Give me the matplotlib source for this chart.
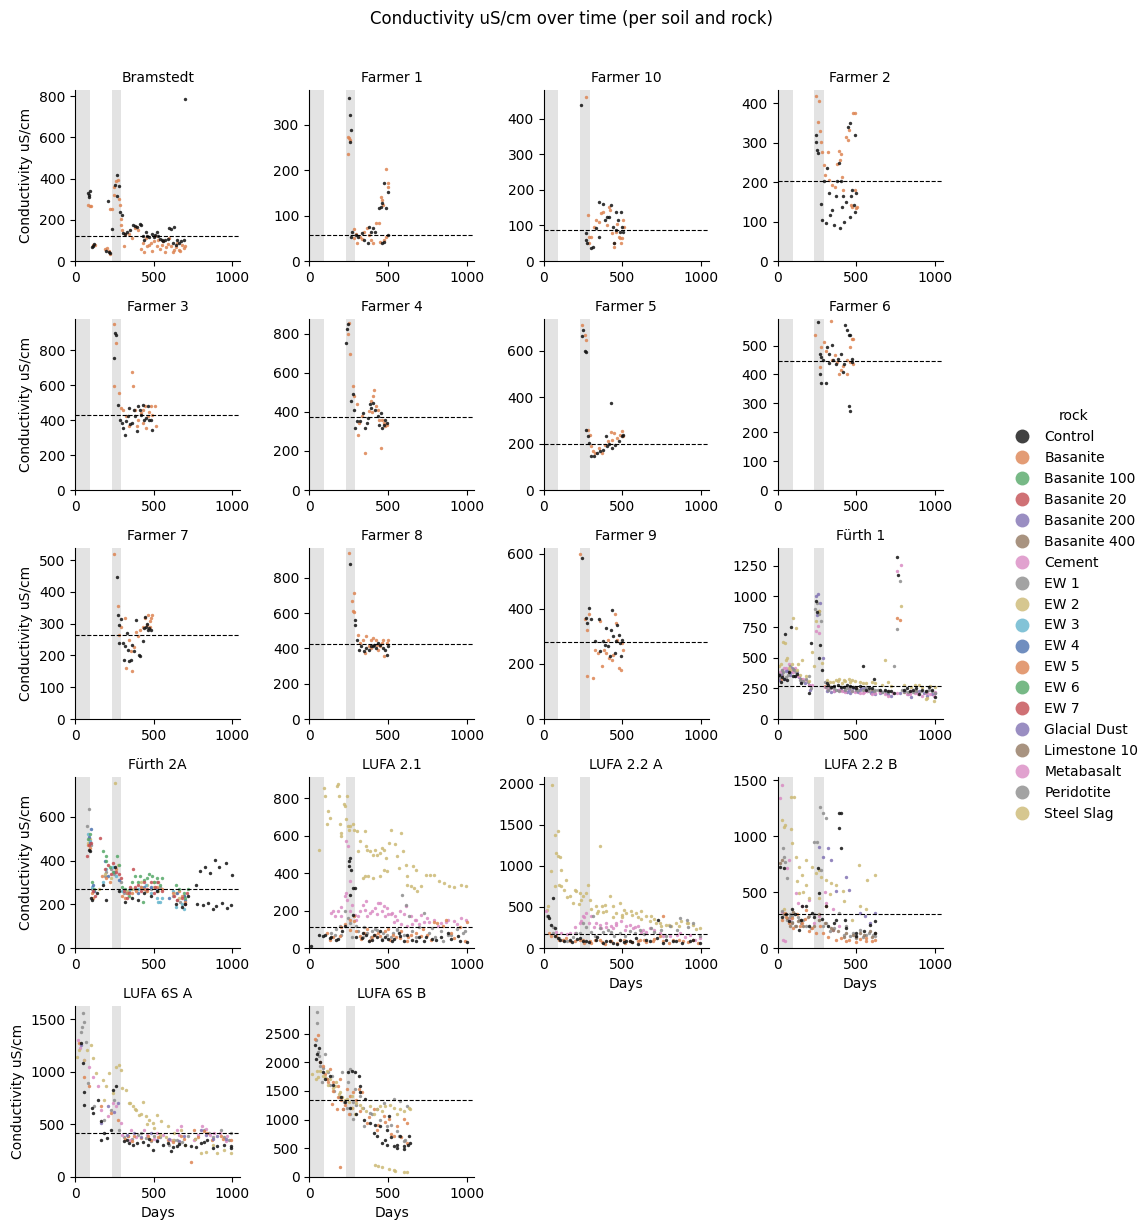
import matplotlib
matplotlib.use("Agg")
import matplotlib.pyplot as plt
from matplotlib.lines import Line2D

# rocks in legend order and their colours
rocks = ["Control", "Basanite", "Basanite 100", "Basanite 20", "Basanite 200",
         "Basanite 400", "Cement", "EW 1", "EW 2", "EW 3", "EW 4", "EW 5", "EW 6",
         "EW 7", "Glacial Dust", "Limestone 10", "Metabasalt", "Peridotite", "Steel Slag"]
colors = ["#111111", "#dd8452", "#55a868", "#c44e52", "#8172b3", "#937860", "#da8bc3",
          "#8c8c8c", "#ccb974", "#64b5cd", "#4c72b0", "#dd8452", "#55a868", "#c44e52",
          "#8172b3", "#937860", "#da8bc3", "#8c8c8c", "#ccb974"]

# (day, conductivity) points per site and rock
bramstedt = {
    "Basanite": [(85, 270), (95, 268), (100, 265), (115, 80), (125, 80), (190, 60), (205, 65), (215, 50),
                 (225, 35), (225, 255), (235, 255), (245, 320), (250, 360), (260, 390), (270, 395), (280, 300),
                 (285, 270), (290, 205), (295, 175), (300, 150), (310, 75), (320, 130), (340, 130), (360, 110),
                 (380, 160), (390, 165), (400, 150), (420, 60), (430, 90), (440, 45), (450, 110), (460, 75),
                 (470, 80), (480, 90), (490, 50), (500, 95), (510, 120), (520, 75), (530, 100), (540, 60),
                 (550, 80), (560, 95), (570, 45), (580, 70), (590, 85), (600, 110), (610, 75), (620, 45),
                 (630, 55), (640, 70), (650, 90), (660, 55), (670, 50), (680, 80), (690, 65), (700, 75)],
    "Control": [(85, 330), (90, 320), (95, 340), (88, 310), (110, 70), (115, 75), (120, 85), (200, 50),
                (215, 45), (220, 40), (211, 293), (232, 156), (251, 370), (264, 418), (266, 316), (278, 365),
                (289, 238), (300, 222), (305, 135), (315, 130), (330, 140), (350, 150), (370, 175), (380, 170),
                (395, 165), (410, 180), (420, 175), (430, 120), (440, 100), (450, 140), (460, 120), (470, 115),
                (490, 130), (500, 115), (510, 125), (520, 140), (530, 120), (540, 105), (550, 100), (560, 95),
                (570, 100), (590, 105), (600, 160), (610, 155), (620, 90), (630, 165), (640, 80), (650, 100),
                (660, 90), (675, 95), (690, 100), (700, 785)],
}
farmer_1 = {
    "Basanite": [(249, 274), (254, 271), (260, 267), (249, 237), (282, 70), (287, 50), (304, 39), (323, 54),
                 (351, 65), (365, 72), (378, 57), (392, 46), (406, 39), (425, 83), (442, 83), (456, 142),
                 (464, 135), (470, 124), (489, 204), (503, 171), (503, 164), (475, 46), (489, 54), (448, 43),
                 (337, 48), (300, 60)],
    "Control": [(254, 360), (260, 321), (265, 289), (257, 263), (273, 65), (268, 54), (296, 57), (309, 54),
                (337, 61), (351, 46), (373, 39), (378, 76), (392, 65), (406, 72), (420, 65), (442, 116),
                (453, 120), (461, 127), (475, 171), (489, 116), (503, 153), (503, 57), (475, 43), (461, 39)],
}
farmer_10 = {
    "Basanite": [(273, 461), (281, 129), (287, 68), (292, 50), (303, 68), (322, 96), (336, 115), (350, 110),
                 (363, 134), (377, 138), (404, 101), (418, 152), (423, 143), (434, 78), (445, 40), (451, 50),
                 (459, 82), (467, 105), (478, 68), (486, 64), (500, 64), (508, 115), (514, 96), (494, 50)],
    "Control": [(240, 439), (273, 78), (270, 59), (276, 50), (303, 36), (314, 40), (336, 92), (350, 68),
                (355, 166), (377, 161), (391, 115), (404, 124), (418, 124), (432, 157), (440, 96), (445, 50),
                (459, 138), (473, 115), (486, 82), (494, 138), (500, 96), (508, 82), (459, 86)],
}
farmer_2 = {
    "Basanite": [(242, 419), (264, 407), (258, 354), (267, 329), (272, 303), (283, 278), (292, 244),
                 (300, 219), (319, 278), (328, 206), (347, 193), (361, 189), (375, 246), (389, 280),
                 (397, 256), (403, 272), (408, 214), (417, 180), (431, 314), (444, 308), (453, 333),
                 (464, 142), (472, 138), (480, 375), (494, 375), (500, 134), (506, 138), (494, 180)],
    "Control": [(242, 320), (244, 303), (250, 282), (258, 274), (278, 145), (283, 104), (297, 202),
                (306, 96), (314, 236), (328, 172), (333, 117), (347, 130), (356, 92), (369, 164), (375, 202),
                (389, 248), (394, 83), (403, 202), (411, 138), (417, 164), (422, 100), (436, 151), (444, 341),
                (458, 350), (467, 166), (458, 113), (472, 180), (486, 142), (494, 320), (500, 172), (492, 125)],
}
farmer_3 = {
    "Basanite": [(250, 952), (258, 842), (250, 594), (281, 555), (293, 470), (305, 460), (324, 424),
                 (344, 367), (363, 674), (371, 594), (383, 460), (391, 367), (402, 403), (422, 441),
                 (434, 460), (445, 479), (461, 424), (469, 450), (480, 479), (492, 431), (508, 479),
                 (512, 367), (449, 357), (430, 385)],
    "Control": [(254, 899), (258, 890), (250, 756), (273, 489), (285, 403), (297, 385), (305, 357),
                (316, 317), (324, 395), (336, 424), (352, 376), (363, 385), (375, 460), (383, 424),
                (402, 479), (414, 460), (430, 489), (441, 403), (453, 412), (461, 479), (473, 403),
                (484, 403), (492, 345), (391, 336), (344, 470), (422, 431)],
}
farmer_4 = {
    "Basanite": [(252, 856), (248, 796), (256, 694), (276, 532), (287, 480), (303, 438), (311, 284),
                 (319, 344), (335, 378), (354, 190), (378, 404), (390, 455), (406, 480), (413, 514),
                 (425, 429), (437, 412), (445, 360), (453, 215), (465, 360), (472, 344), (484, 327),
                 (496, 335), (398, 400)],
    "Control": [(248, 848), (240, 822), (232, 754), (268, 455), (276, 489), (284, 412), (291, 318),
                (303, 352), (323, 352), (343, 395), (354, 318), (374, 369), (386, 438), (394, 421),
                (406, 446), (417, 412), (437, 378), (445, 335), (453, 395), (465, 318), (476, 335),
                (484, 360), (492, 344), (366, 344)],
}
farmer_5 = {
    "Basanite": [(242, 713), (266, 671), (273, 649), (281, 258), (293, 239), (301, 188), (313, 167),
                 (328, 160), (352, 181), (371, 160), (391, 196), (410, 210), (426, 249), (438, 217),
                 (449, 246), (469, 224), (484, 239), (496, 253), (508, 232)],
    "Control": [(254, 692), (246, 663), (262, 599), (270, 594), (270, 258), (281, 232), (289, 203),
                (305, 145), (320, 148), (340, 160), (359, 167), (379, 174), (398, 232), (406, 188),
                (430, 376), (438, 181), (457, 196), (477, 210), (496, 232), (508, 239), (418, 200)],
}
farmer_6 = {
    "Basanite": [(238, 536), (277, 495), (297, 512), (305, 483), (336, 584), (344, 449), (363, 466),
                 (375, 442), (391, 402), (402, 414), (414, 431), (441, 449), (461, 442), (469, 524),
                 (480, 524), (480, 437), (461, 495), (441, 402), (266, 425)],
    "Control": [(258, 580), (266, 472), (273, 460), (266, 402), (273, 371), (305, 371), (285, 449),
                (313, 495), (324, 472), (344, 501), (352, 449), (371, 437), (383, 454), (402, 472),
                (414, 408), (422, 437), (430, 573), (441, 553), (453, 536), (461, 536), (453, 292),
                (461, 274), (469, 454), (473, 442), (324, 440)],
}
farmer_7 = {
    "Basanite": [(247, 520), (274, 354), (280, 265), (295, 291), (316, 317), (325, 160), (340, 250),
                 (355, 213), (364, 150), (376, 228), (385, 275), (400, 260), (415, 281), (430, 291),
                 (445, 317), (460, 296), (466, 328), (475, 307), (484, 317), (490, 328), (478, 291)],
    "Control": [(268, 447), (271, 328), (280, 297), (280, 239), (295, 316), (304, 239), (310, 187),
                (319, 229), (328, 270), (334, 218), (346, 182), (355, 187), (364, 234), (376, 213),
                (385, 312), (406, 202), (415, 197), (430, 244), (436, 286), (445, 322), (454, 291),
                (466, 281), (472, 286), (484, 281), (460, 300)],
}
farmer_8 = {
    "Basanite": [(250, 942), (271, 667), (280, 610), (286, 714), (286, 605), (310, 478), (325, 431),
                 (340, 450), (352, 374), (361, 469), (377, 412), (392, 450), (407, 460), (422, 450),
                 (437, 393), (452, 412), (467, 450), (476, 355), (491, 431), (503, 450), (430, 420),
                 (395, 400), (460, 430)],
    "Control": [(256, 881), (292, 535), (292, 563), (301, 450), (316, 393), (331, 412), (346, 384),
                (361, 403), (377, 393), (392, 412), (407, 412), (422, 403), (437, 431), (452, 422),
                (467, 403), (482, 393), (497, 365), (503, 412), (410, 420)],
}
farmer_9 = {
    "Basanite": [(232, 600), (262, 361), (277, 324), (292, 379), (277, 155), (316, 149), (328, 252),
                 (346, 240), (361, 355), (373, 191), (382, 252), (397, 240), (413, 288), (419, 221),
                 (434, 215), (443, 233), (452, 379), (458, 349), (467, 288), (479, 185), (491, 179),
                 (503, 252), (497, 276)],
    "Control": [(247, 585), (268, 367), (277, 349), (292, 403), (301, 361), (328, 282), (352, 361),
                (358, 245), (377, 282), (389, 270), (397, 330), (413, 264), (422, 228), (428, 324),
                (436, 397), (443, 300), (452, 240), (458, 282), (467, 342), (479, 306), (488, 276),
                (494, 228), (497, 288)],
}
fuerth_1 = {
    "Basanite": [(757, 828), (774, 809), (20, 330), (300, 270), (500, 250), (880, 230)],
    "Limestone 10": [(30, 360), (70, 380), (260, 880), (400, 240), (600, 240), (800, 220), (950, 230),
                     (150, 330), (330, 260)],
    "Glacial Dust": [(10, 350), (30, 380), (60, 400), (90, 420), (110, 350), (150, 300), (200, 280),
                     (240, 1000), (255, 1020), (250, 850), (270, 950), (290, 500), (320, 240), (360, 230),
                     (400, 250), (450, 240), (500, 230), (550, 250), (600, 220), (650, 210), (700, 200),
                     (780, 210), (830, 200), (880, 220), (930, 210), (980, 200), (420, 230), (480, 250),
                     (340, 220), (520, 240), (620, 200), (45, 330), (75, 360), (5, 320), (20, 360), (55, 390),
                     (85, 380), (120, 380), (135, 340), (170, 290), (205, 240), (310, 230), (330, 250),
                     (380, 240), (440, 220), (460, 210), (510, 220), (530, 250), (570, 230), (590, 210),
                     (660, 220), (690, 210), (720, 190), (800, 230), (850, 180), (900, 230), (950, 190),
                     (1000, 210)],
    "Metabasalt": [(15, 380), (40, 420), (70, 450), (95, 380), (130, 350), (180, 320), (215, 280),
                   (245, 720), (255, 760), (265, 700), (300, 260), (340, 250), (390, 240), (430, 220),
                   (470, 230), (520, 210), (570, 230), (620, 210), (680, 200), (730, 210), (757, 1204),
                   (785, 1253), (820, 200), (870, 210), (920, 190), (970, 200), (1000, 220), (850, 230),
                   (950, 210), (450, 250), (550, 220), (25, 400), (55, 420), (85, 400), (110, 420),
                   (160, 330), (200, 280), (310, 250), (360, 230), (410, 230), (490, 220), (540, 210),
                   (600, 200), (650, 220), (700, 190), (760, 210), (840, 200), (890, 200), (940, 210),
                   (990, 190)],
    "Peridotite": [(5, 370), (25, 400), (50, 340), (80, 430), (105, 400), (140, 320), (190, 300),
                   (210, 250), (238, 900), (248, 950), (260, 860), (275, 800), (300, 300), (330, 250),
                   (370, 240), (410, 260), (460, 250), (510, 240), (560, 260), (610, 230), (660, 220),
                   (710, 230), (736, 430), (757, 734), (774, 1124), (810, 230), (860, 220), (910, 230),
                   (960, 240), (1000, 210), (350, 260), (430, 240), (490, 260), (640, 240), (200, 350),
                   (15, 340), (35, 380), (65, 360), (95, 410), (115, 380), (160, 310), (180, 330),
                   (305, 260), (320, 240), (360, 250), (390, 230), (440, 250), (470, 230), (500, 240),
                   (540, 240), (580, 230), (620, 240), (680, 230), (700, 220), (790, 240), (830, 220),
                   (880, 230), (940, 220), (980, 230)],
    "Steel Slag": [(10, 430), (32, 626), (43, 621), (60, 500), (80, 400), (96, 828), (113, 742),
                   (130, 450), (156, 478), (180, 350), (220, 550), (230, 430), (245, 800), (265, 880),
                   (280, 460), (310, 320), (350, 300), (390, 330), (430, 310), (470, 320), (520, 300),
                   (560, 290), (620, 290), (682, 484), (720, 270), (785, 922), (850, 260), (900, 280),
                   (950, 170), (990, 150), (1000, 260), (370, 320), (450, 330), (410, 290), (20, 450),
                   (50, 480), (70, 420), (90, 450), (120, 400), (140, 360), (200, 310), (330, 300),
                   (380, 310), (420, 320), (460, 300), (490, 310), (540, 290), (600, 300), (660, 280),
                   (700, 300), (800, 280), (870, 280), (920, 260), (970, 270), (940, 160)],
    "Control": [(20, 300), (40, 330), (49, 694), (60, 320), (85, 747), (95, 350), (120, 370), (150, 290),
                (200, 210), (209, 621), (241, 962), (250, 870), (260, 500), (266, 607), (280, 400),
                (310, 290), (340, 260), (380, 280), (420, 260), (460, 270), (500, 250), (544, 435),
                (580, 250), (610, 330), (650, 240), (700, 230), (740, 210), (761, 1325), (763, 1177),
                (800, 240), (840, 230), (880, 250), (920, 240), (960, 260), (1000, 180), (980, 240),
                (900, 200), (10, 360), (30, 340), (70, 380), (110, 350), (320, 280), (360, 270),
                (400, 260), (440, 280), (480, 260), (520, 270), (560, 240), (600, 250), (680, 240),
                (720, 230), (820, 250), (860, 240), (940, 230)],
}
fuerth_2a = {
    "EW 1": [(91, 637), (79, 560), (90, 500), (120, 260), (200, 350), (250, 340), (310, 250), (380, 270),
             (450, 260), (520, 300), (650, 220), (690, 240), (100, 470), (110, 270), (190, 330), (230, 360),
             (290, 300), (340, 260), (420, 280), (480, 270), (540, 280), (620, 240), (670, 210)],
    "EW 2": [(251, 756), (85, 480), (150, 270), (230, 320), (330, 260), (420, 300), (500, 280), (660, 230),
             (95, 500), (190, 340), (270, 380), (360, 270), (460, 290), (530, 260), (640, 250)],
    "EW 3": [(95, 490), (200, 360), (260, 330), (350, 270), (450, 290), (530, 210), (540, 210), (640, 190),
             (690, 180), (520, 230), (85, 520), (110, 280), (180, 300), (240, 370), (300, 260), (400, 270),
             (480, 250), (550, 230), (620, 260), (680, 200)],
    "EW 4": [(100, 545), (113, 290), (190, 400), (280, 310), (400, 250), (480, 280), (650, 250), (700, 220),
             (88, 510), (92, 480), (120, 260), (210, 330), (250, 350), (330, 250), (440, 280), (520, 270),
             (600, 230), (690, 240)],
    "EW 5": [(85, 470), (105, 250), (170, 330), (220, 300), (300, 240), (360, 250), (420, 280), (500, 300),
             (550, 270), (660, 260), (700, 210), (460, 260), (330, 250), (95, 460), (115, 230), (200, 320),
             (260, 360), (320, 230), (390, 260), (440, 270), (520, 280), (620, 250), (680, 240)],
    "EW 6": [(95, 520), (120, 270), (177, 443), (195, 420), (240, 350), (265, 420), (300, 280), (340, 240),
             (380, 330), (440, 310), (470, 340), (520, 320), (550, 320), (640, 290), (690, 250), (720, 270),
             (430, 210), (400, 300), (490, 330), (85, 500), (105, 300), (200, 400), (220, 370), (280, 380),
             (320, 270), (360, 300), (410, 330), (460, 320), (500, 300), (540, 290), (660, 270), (700, 230)],
    "EW 7": [(79, 420), (100, 480), (125, 240), (160, 504), (210, 380), (240, 390), (280, 340), (330, 230),
             (370, 360), (400, 290), (460, 270), (500, 250), (530, 300), (630, 240), (680, 230), (710, 250),
             (310, 260), (350, 280), (420, 260), (480, 300), (90, 470), (115, 260), (190, 360), (230, 340),
             (260, 350), (290, 320), (340, 250), (380, 280), (440, 300), (510, 280), (550, 260), (650, 220),
             (700, 200)],
    "Control": [(91, 447), (95, 445), (100, 230), (110, 220), (140, 250), (180, 290), (200, 220), (255, 371),
                (280, 260), (320, 210), (360, 230), (400, 220), (440, 250), (480, 240), (520, 260),
                (640, 200), (680, 190), (700, 200), (720, 240), (766, 290), (777, 202), (794, 354),
                (811, 195), (823, 371), (843, 206), (860, 344), (874, 180), (891, 405), (897, 194),
                (915, 371), (936, 206), (957, 389), (968, 183), (994, 195), (1000, 334)],
}
lufa_21 = {
    "EW 2": [(64, 527), (92, 854), (97, 812), (118, 732), (129, 696), (112, 661), (176, 866), (182, 875),
             (189, 812), (193, 661), (204, 598), (199, 616), (218, 768), (225, 759), (232, 688), (242, 812),
             (247, 652), (253, 634), (262, 652), (275, 661), (283, 634), (305, 625), (311, 518), (360, 545),
             (369, 527), (386, 518), (403, 500), (418, 527), (433, 500), (451, 509), (461, 536), (476, 527),
             (504, 563), (521, 634), (547, 554), (558, 491), (569, 429), (584, 616), (597, 518), (612, 446),
             (622, 384), (644, 330), (661, 438), (676, 420), (687, 304), (708, 330), (740, 393), (768, 393),
             (794, 393), (826, 357), (858, 348), (891, 334), (923, 325), (966, 339), (998, 330), (339, 375),
             (354, 384), (375, 384), (408, 375), (451, 384), (472, 420), (494, 411), (622, 339), (665, 321),
             (322, 572), (354, 625), (489, 482)],
    "Cement": [(236, 571), (247, 545), (232, 295), (242, 259), (258, 357), (139, 187), (161, 170),
               (182, 196), (204, 170), (225, 277), (290, 179), (322, 196), (354, 205), (386, 187),
               (418, 214), (451, 241), (472, 223), (494, 214), (526, 187), (547, 170), (575, 196),
               (612, 223), (644, 170), (676, 152), (708, 179), (751, 162), (794, 152), (837, 134),
               (880, 152), (923, 143), (966, 162), (998, 152), (370, 170), (430, 180), (500, 180),
               (560, 150), (600, 180), (650, 130), (730, 140), (260, 200), (300, 150), (460, 200),
               (150, 200), (200, 220), (270, 230), (310, 170), (340, 230), (360, 250), (400, 200),
               (440, 240), (480, 170), (520, 180), (540, 140), (580, 130), (620, 120), (670, 150),
               (700, 130), (760, 140), (820, 120), (870, 140), (940, 130)],
    "EW 1": [(161, 71), (193, 116), (258, 134), (300, 116), (365, 80), (429, 98), (494, 71), (558, 98),
             (590, 286), (612, 232), (633, 170), (730, 187), (783, 107), (837, 89), (901, 71), (976, 80),
             (230, 196), (247, 161), (340, 60), (400, 90), (460, 50), (530, 80), (680, 60), (850, 40),
             (140, 80), (170, 100), (200, 70), (270, 60), (310, 90), (350, 110), (390, 60), (420, 100),
             (470, 80), (520, 60), (560, 100), (600, 70), (650, 90), (700, 110), (760, 80), (800, 60),
             (880, 70), (940, 100), (990, 90)],
    "Basanite": [(129, 45), (193, 62), (258, 98), (283, 143), (322, 62), (386, 45), (451, 62), (515, 45),
                 (579, 54), (644, 71), (708, 62), (773, 45), (815, 134), (869, 152), (923, 54), (987, 36),
                 (262, 152), (283, 170), (350, 80), (420, 70), (480, 90), (550, 60), (620, 40), (750, 70),
                 (110, 80), (150, 60), (200, 110), (230, 130), (300, 90), (330, 50), (370, 100), (400, 60),
                 (440, 80), (500, 100), (530, 70), (580, 90), (630, 60), (680, 80), (720, 100), (790, 140),
                 (850, 120), (900, 80), (960, 110), (1000, 140)],
    "Control": [(11, 9), (64, 71), (86, 62), (129, 54), (172, 45), (225, 116), (251, 464), (253, 437),
                (258, 482), (268, 419), (279, 321), (290, 321), (262, 286), (275, 179), (333, 54), (397, 45),
                (461, 45), (526, 36), (579, 62), (655, 45), (730, 36), (805, 45), (880, 80), (944, 62),
                (1004, 30), (360, 70), (430, 60), (500, 50), (600, 40), (700, 60), (100, 70), (140, 60),
                (180, 50), (210, 90), (300, 60), (340, 80), (380, 40), (410, 70), (450, 90), (480, 60),
                (540, 50), (570, 80), (620, 70), (680, 40), (740, 60), (780, 50), (840, 60), (900, 50),
                (960, 40)],
}
lufa_22a = {
    "EW 2": [(53, 1988), (74, 1379), (91, 1420), (81, 1156), (91, 1116), (102, 1108), (108, 953),
             (98, 771), (76, 751), (49, 933), (28, 507), (21, 467), (112, 751), (140, 832), (166, 629),
             (187, 548), (208, 690), (229, 670), (251, 629), (272, 670), (282, 771), (293, 588), (331, 507),
             (348, 446), (357, 1237), (369, 507), (391, 527), (420, 629), (442, 507), (463, 426), (484, 548),
             (510, 467), (527, 426), (558, 446), (590, 426), (622, 446), (654, 385), (685, 385), (717, 304),
             (749, 264), (781, 284), (813, 264), (845, 304), (877, 325), (909, 304), (951, 284), (994, 243),
             (225, 539), (400, 450), (600, 380), (700, 350), (500, 400), (130, 700), (150, 620), (200, 700),
             (240, 580), (300, 480), (340, 420), (380, 440), (440, 380), (500, 380), (560, 400), (620, 350),
             (680, 330), (740, 300), (800, 280), (860, 270), (920, 300), (970, 230)],
    "Cement": [(17, 446), (166, 183), (198, 183), (229, 304), (251, 385), (272, 426), (303, 385),
               (335, 304), (367, 243), (399, 304), (431, 264), (463, 284), (495, 325), (527, 264),
               (569, 243), (601, 264), (633, 223), (675, 243), (739, 183), (803, 142), (866, 183),
               (930, 162), (994, 122), (81, 191), (112, 183), (440, 240), (550, 280), (620, 200),
               (150, 170), (200, 250), (240, 330), (260, 380), (290, 300), (320, 250), (360, 280),
               (400, 250), (460, 300), (520, 220), (580, 260), (650, 200), (700, 220), (760, 150),
               (850, 160), (900, 130), (960, 100)],
    "EW 1": [(21, 385), (59, 183), (123, 101), (208, 183), (251, 304), (314, 385), (357, 243), (410, 223),
             (484, 183), (548, 203), (612, 223), (685, 243), (749, 223), (803, 264), (866, 365), (909, 345),
             (951, 304), (994, 142), (300, 200), (450, 150), (60, 250), (100, 120), (150, 90), (190, 130),
             (230, 180), (270, 250), (330, 150), (380, 200), (430, 200), (520, 150), (580, 180), (640, 170),
             (700, 200), (780, 150), (850, 220), (920, 260)],
    "Basanite": [(38, 183), (81, 142), (123, 101), (166, 81), (229, 101), (293, 81), (357, 101), (420, 81),
                 (484, 101), (548, 81), (612, 101), (696, 81), (760, 385), (824, 101), (887, 81), (951, 101),
                 (739, 142), (260, 60), (390, 50), (520, 60), (650, 70), (50, 150), (100, 100), (140, 120),
                 (200, 80), (250, 100), (300, 60), (330, 100), (370, 70), (430, 90), (470, 60), (510, 100),
                 (560, 70), (600, 90), (640, 100), (700, 110), (760, 80), (800, 60), (860, 100), (920, 70),
                 (980, 60)],
    "Control": [(28, 385), (38, 365), (49, 284), (59, 609), (76, 243), (102, 101), (166, 101), (229, 122),
                (272, 81), (335, 101), (399, 81), (484, 101), (527, 81), (590, 122), (654, 101), (728, 345),
                (781, 101), (845, 81), (930, 81), (994, 61), (440, 60), (560, 70), (70, 150), (90, 120),
                (130, 80), (180, 70), (210, 110), (250, 90), (290, 70), (340, 130), (380, 60), (420, 90),
                (470, 50), (510, 70), (550, 90), (600, 50), (680, 80), (720, 120), (760, 60), (820, 90),
                (880, 60), (950, 100)],
}
lufa_22b = {
    "Cement": [(28, 1458), (17, 1339), (32, 74), (45, 60), (60, 714), (71, 789), (113, 491), (156, 372),
               (199, 432), (263, 283), (306, 402), (349, 164), (392, 193), (25, 320), (80, 260), (130, 400),
               (230, 220), (300, 500), (350, 350)],
    "EW 2": [(86, 1354), (103, 1354), (28, 1146), (39, 1086), (49, 1101), (81, 1062), (92, 937),
             (113, 818), (135, 729), (152, 655), (178, 789), (220, 729), (242, 670), (274, 640), (306, 610),
             (338, 580), (370, 565), (413, 506), (514, 744), (570, 610), (617, 655), (520, 372), (135, 491),
             (180, 560), (260, 450), (40, 350), (120, 600), (160, 500), (200, 450), (260, 700), (330, 480),
             (420, 420), (470, 250), (560, 350)],
    "EW 1": [(32, 893), (39, 818), (49, 774), (60, 625), (92, 283), (135, 253), (199, 283), (229, 952),
             (250, 952), (270, 1265), (285, 1205), (306, 1160), (274, 699), (306, 223), (392, 312),
             (435, 193), (478, 134), (520, 164), (563, 119), (606, 119), (499, 89), (80, 300), (160, 250),
             (30, 330), (45, 300), (60, 250), (75, 280), (90, 230), (110, 200), (130, 280), (150, 220),
             (180, 200), (210, 180), (230, 300), (260, 250), (290, 200), (330, 150), (360, 180), (420, 120),
             (460, 110), (540, 100), (580, 130), (620, 110)],
    "Basanite 400": [(17, 759), (28, 789), (92, 223), (113, 193), (146, 253), (263, 253), (349, 164),
                     (435, 134), (478, 119), (520, 134), (585, 149), (617, 134), (40, 300), (60, 270),
                     (80, 200), (100, 320), (130, 240), (160, 200), (190, 280), (230, 200), (260, 300),
                     (300, 220), (340, 180), (380, 150), (420, 100), (500, 100), (550, 120), (600, 100)],
    "Basanite 200": [(263, 908), (285, 818), (317, 893), (338, 789), (370, 506), (435, 640), (456, 521),
                     (520, 312), (552, 283), (585, 223), (617, 312)],
    "Basanite": [(49, 312), (92, 268), (156, 223), (220, 179), (285, 134), (370, 74), (435, 60), (499, 51),
                 (563, 60), (617, 74), (178, 342), (306, 372), (30, 250), (50, 280), (70, 220), (100, 180),
                 (120, 300), (140, 200), (170, 260), (200, 150), (240, 130), (270, 200), (320, 100),
                 (400, 90), (450, 70), (520, 80), (560, 90), (600, 60)],
    "Control": [(17, 729), (39, 714), (135, 164), (156, 372), (220, 312), (253, 714), (263, 491),
                (306, 372), (392, 1205), (403, 1211), (392, 1071), (403, 893), (370, 253), (435, 179),
                (499, 134), (585, 208), (617, 238), (30, 280), (50, 300), (70, 240), (90, 350), (110, 300),
                (150, 250), (180, 380), (200, 200), (230, 280), (280, 260), (320, 200), (360, 220),
                (430, 250), (500, 110), (550, 150), (620, 130)],
}
lufa_6sa = {
    "EW 1": [(49, 1557), (55, 1478), (44, 1430), (38, 1383), (70, 1288), (80, 892), (123, 671), (186, 544),
             (228, 639), (250, 734), (281, 449), (334, 386), (419, 418), (503, 386), (630, 351), (715, 386),
             (820, 449), (925, 449), (989, 418), (310, 380), (360, 360), (400, 400), (450, 370), (480, 340),
             (540, 380), (600, 300), (650, 350), (680, 330), (760, 360), (850, 420), (880, 380), (950, 380),
             (980, 350)],
    "Cement": [(17, 1304), (34, 1225), (59, 1114), (91, 1051), (112, 956), (144, 861), (165, 639), (207, 576),
               (239, 703), (260, 671), (292, 513), (355, 449), (440, 449), (524, 418), (651, 449), (672, 481),
               (757, 351), (810, 481), (884, 418), (968, 386), (300, 400), (350, 350), (390, 380), (460, 400),
               (500, 360), (560, 400), (610, 350), (660, 400), (780, 400), (830, 460), (860, 400), (920, 420),
               (960, 340)],
    "EW 2": [(13, 1146), (27, 1209), (55, 1114), (76, 1209), (101, 1256), (112, 1130), (133, 987),
             (175, 924), (197, 861), (218, 987), (239, 797), (260, 1051), (281, 1067), (292, 1019),
             (324, 829), (345, 703), (366, 671), (387, 639), (408, 592), (429, 718), (450, 576), (472, 544),
             (493, 513), (524, 592), (546, 528), (588, 481), (630, 418), (672, 449), (799, 228), (831, 234),
             (905, 228), (947, 259), (989, 228), (186, 734), (300, 850), (350, 700), (380, 650), (420, 600),
             (460, 500), (500, 470), (540, 400), (580, 380), (620, 350), (660, 330), (700, 300), (760, 360),
             (880, 300)],
    "Basanite": [(27, 1272), (59, 956), (91, 861), (165, 671), (228, 608), (270, 544), (334, 386),
                 (376, 386), (461, 386), (588, 351), (672, 386), (757, 449), (841, 418), (925, 386),
                 (989, 351), (736, 139), (320, 360), (360, 340), (420, 370), (480, 350), (530, 380),
                 (620, 330), (690, 360), (780, 380), (820, 440), (870, 350), (940, 360)],
    "Basanite 200": [(38, 1256), (165, 513), (207, 671), (270, 703), (376, 418), (482, 418), (693, 386),
                     (799, 449), (905, 386), (330, 400), (420, 380), (520, 350), (600, 360), (660, 340),
                     (830, 400), (880, 360), (960, 360), (250, 620)],
    "Control": [(38, 1272), (49, 1083), (59, 813), (55, 687), (108, 655), (112, 608), (144, 734),
                (165, 528), (165, 354), (186, 418), (203, 370), (228, 449), (239, 829), (260, 861),
                (313, 339), (345, 323), (397, 323), (461, 307), (493, 259), (588, 323), (609, 244),
                (651, 291), (736, 291), (799, 323), (841, 354), (905, 291), (989, 291), (330, 350),
                (370, 300), (430, 330), (470, 360), (520, 340), (560, 300), (620, 290), (660, 310),
                (700, 300), (770, 290), (820, 330), (880, 280), (950, 300), (990, 280)],
}
lufa_6sb = {
    "EW 1": [(51, 2870), (51, 2688), (43, 2383), (57, 2177), (68, 1942), (79, 1649), (100, 2148),
             (121, 1825), (143, 1766), (206, 1825), (243, 1649), (260, 1884), (291, 1532), (323, 1414),
             (345, 886), (387, 1121), (430, 1180), (472, 1297), (536, 1356), (579, 1326), (621, 1238),
             (281, 1004), (217, 1180), (494, 886), (570, 710), (600, 622), (60, 2100), (90, 1900),
             (110, 1700), (130, 1600), (160, 1500), (190, 1400), (220, 1300), (240, 1200), (260, 1100),
             (280, 1300), (300, 1250), (340, 1200), (400, 1100), (450, 1000), (520, 900), (560, 800),
             (610, 650)],
    "Basanite": [(36, 2412), (57, 2471), (89, 1942), (111, 1708), (132, 1884), (153, 1649), (185, 1590),
                 (196, 1708), (143, 1268), (174, 1180), (196, 182), (217, 1180), (238, 1532), (260, 1414),
                 (281, 1473), (313, 1532), (334, 1473), (368, 945), (411, 1180), (430, 827), (472, 1063),
                 (504, 1004), (536, 710), (557, 886), (600, 1004), (621, 945), (70, 2000), (100, 1800),
                 (120, 1650), (150, 1500), (180, 1400), (200, 1350), (230, 1250), (250, 1100), (270, 1200),
                 (300, 1350), (320, 1150), (380, 1050), (440, 900), (480, 950), (520, 750), (580, 700),
                 (620, 600)],
    "EW 2": [(15, 1796), (47, 1854), (57, 1737), (89, 1766), (111, 1854), (132, 1708), (164, 1590),
             (196, 1473), (238, 1356), (270, 1414), (300, 1297), (334, 1209), (387, 1238), (430, 1180),
             (451, 1238), (483, 1238), (536, 1209), (579, 1180), (632, 1209), (419, 211), (440, 194),
             (462, 170), (504, 135), (536, 123), (547, 111), (600, 94), (621, 82), (40, 1700), (70, 1850),
             (100, 1750), (120, 1600), (150, 1550), (170, 1650), (190, 1450), (210, 1400), (230, 1350),
             (250, 1300), (270, 1200), (290, 1100), (320, 1250), (360, 1150), (410, 1100), (460, 1150),
             (510, 1250), (560, 1100), (600, 1150), (640, 1180)],
    "Control": [(36, 2295), (47, 2148), (68, 2001), (89, 1825), (132, 1766), (249, 1825), (270, 1854),
                (291, 1825), (313, 1766), (323, 1590), (323, 1473), (355, 1356), (387, 945), (411, 768),
                (430, 710), (462, 593), (494, 827), (504, 1063), (536, 534), (557, 505), (579, 710),
                (600, 534), (632, 710), (626, 564), (494, 564), (451, 886), (45, 2050), (60, 2250),
                (100, 1700), (150, 1600), (200, 1400), (230, 1300), (260, 1200), (300, 1100), (350, 1000),
                (420, 900), (480, 650), (520, 700), (560, 560), (600, 480), (640, 600)],
}

sites = ["Bramstedt", "Farmer 1", "Farmer 10", "Farmer 2", "Farmer 3", "Farmer 4", "Farmer 5",
         "Farmer 6", "Farmer 7", "Farmer 8", "Farmer 9", "Fürth 1", "Fürth 2A", "LUFA 2.1",
         "LUFA 2.2 A", "LUFA 2.2 B", "LUFA 6S A", "LUFA 6S B"]
site_data = [bramstedt, farmer_1, farmer_10, farmer_2, farmer_3, farmer_4, farmer_5, farmer_6,
             farmer_7, farmer_8, farmer_9, fuerth_1, fuerth_2a, lufa_21, lufa_22a, lufa_22b,
             lufa_6sa, lufa_6sb]
# dashed reference level per site
ref_level = [120, 58, 88, 202, 428, 375, 200, 447, 265, 423, 280, 272, 268, 115, 175, 300, 415, 1345]
y_top = [830, 377, 480, 434, 980, 875, 738, 592, 538, 970, 620, 1395, 783, 915, 2081, 1531, 1627, 2980]
spans = [(0, 95), (232, 293)]

fig = plt.figure(figsize=(11.42, 12.30), dpi=100)
fig.subplots_adjust(left=0.0657, right=0.8257, top=0.9268, bottom=0.0431, wspace=0.418, hspace=0.339)
color_of = dict(zip(rocks, colors))

for i, site in enumerate(sites):
    ax = fig.add_subplot(5, 4, i + 1)
    for a, b in spans:
        ax.axvspan(a, b, color="0.5", alpha=0.22, lw=0, zorder=0)
    for rock, pts in site_data[i].items():
        ax.scatter([p[0] for p in pts], [p[1] for p in pts], s=6, color=color_of[rock],
                   alpha=0.85, linewidths=0, zorder=2)
    ax.axhline(ref_level[i], color="black", ls="--", lw=0.8, zorder=3)
    ax.set_xlim(0, 1050)
    ax.set_ylim(0, y_top[i])
    ax.set_xticks([0, 500, 1000])
    ax.set_title(site, fontsize=10)
    ax.spines["top"].set_visible(False)
    ax.spines["right"].set_visible(False)
    if i % 4 == 0:
        ax.set_ylabel("Conductivity uS/cm")
    if i >= 14:
        ax.set_xlabel("Days")

handles = [Line2D([], [], marker="o", ls="", color=c, alpha=0.8, markersize=10, markeredgewidth=0)
           for c in colors]
fig.legend(handles, rocks, title="rock", loc="center left", bbox_to_anchor=(0.872, 0.5),
           frameon=False, fontsize=10, title_fontsize=10, handletextpad=0.6, labelspacing=0.5)
fig.suptitle("Conductivity uS/cm over time (per soil and rock)", fontsize=12, y=0.992)

fig.savefig("out.png", dpi=100)
